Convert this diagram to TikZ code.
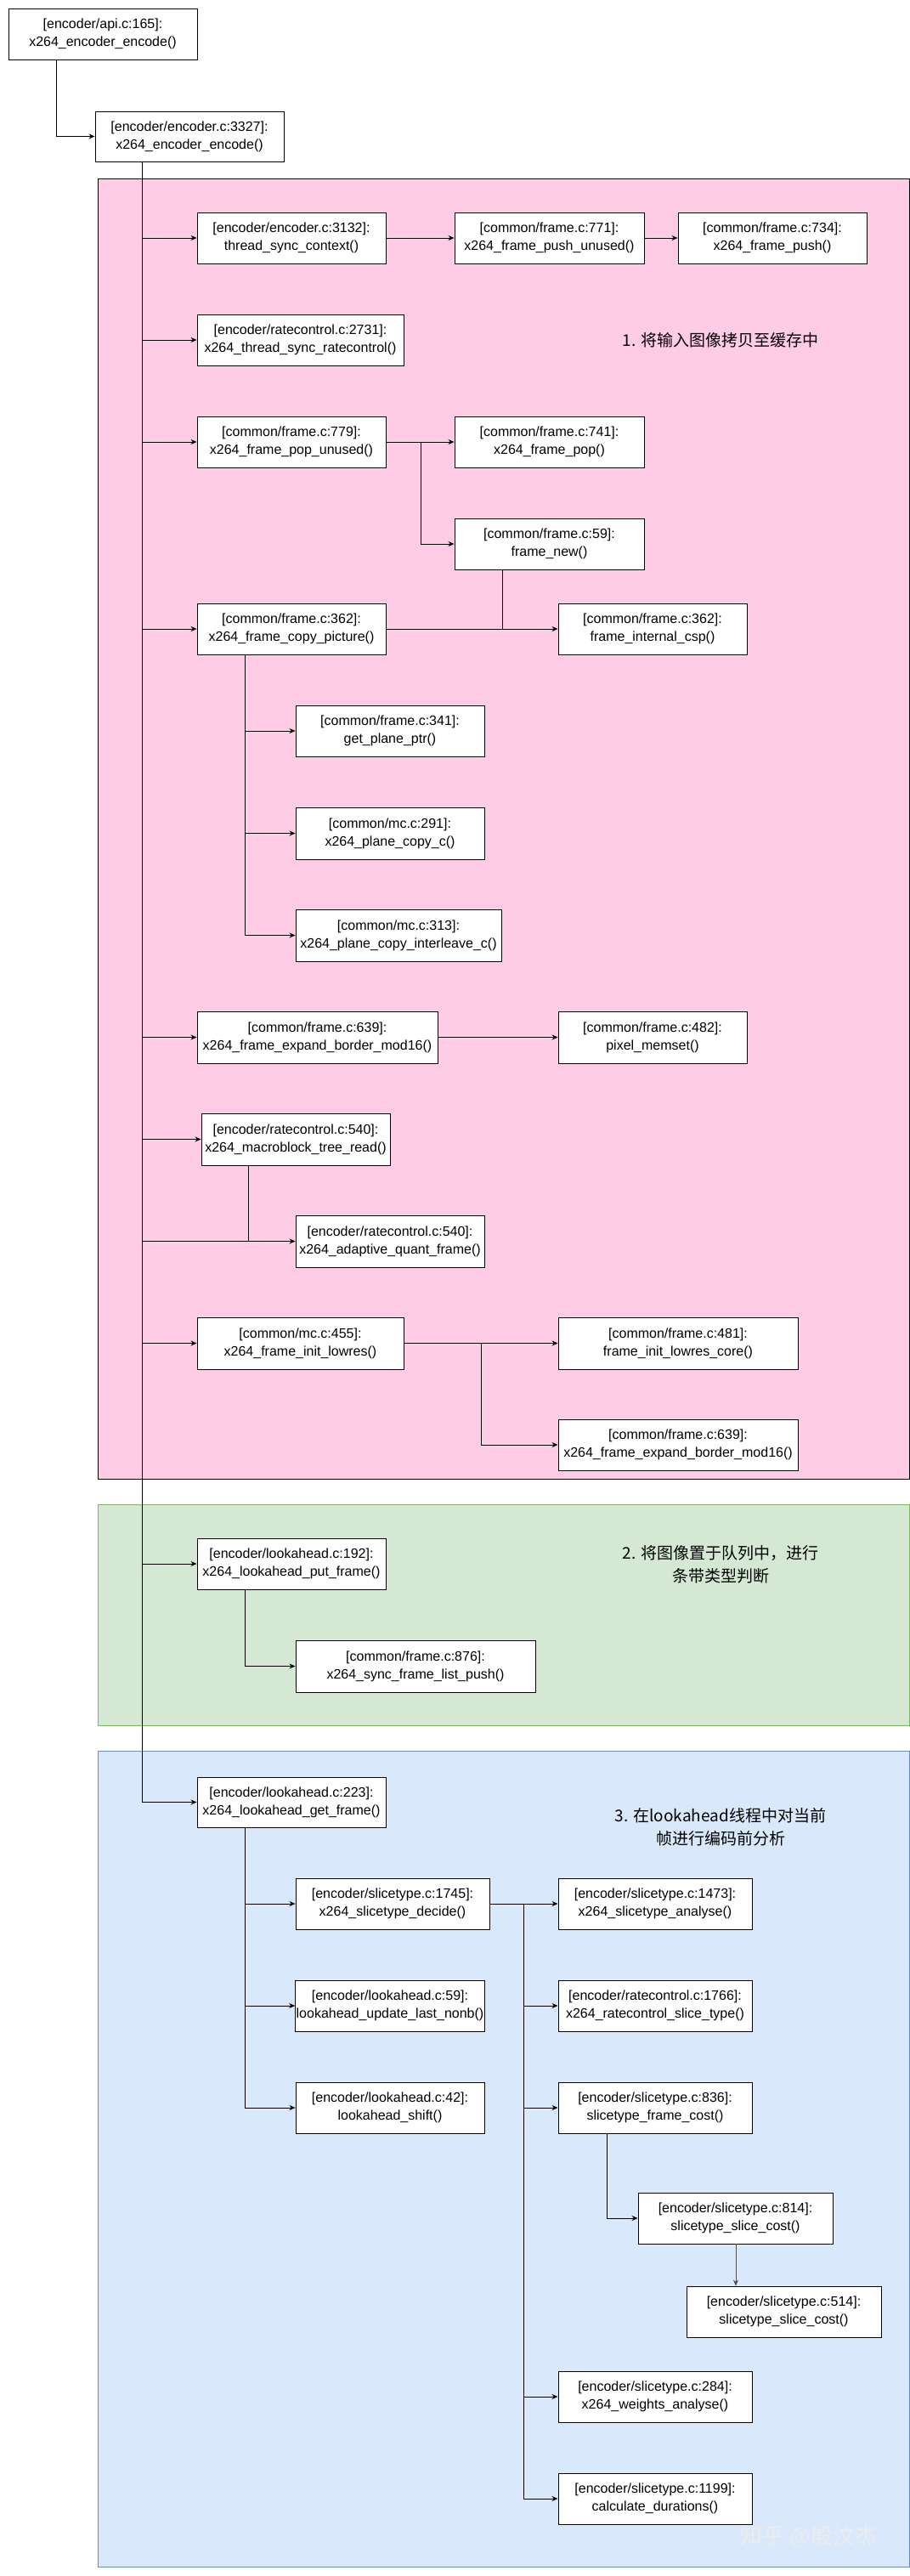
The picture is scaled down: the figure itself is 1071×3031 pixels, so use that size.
\documentclass[tikz,border=0pt]{standalone}
\usepackage{fontspec}
\setmainfont{Liberation Sans}
\newfontfamily\cjk{Noto Sans CJK SC}
\usetikzlibrary{arrows.meta}
\tikzset{
  box/.style={draw=black,fill=white,line width=0.9pt,align=center,inner sep=1pt,font=\fontsize{16}{21}\selectfont},
  arr/.style={-{Stealth[length=7pt,width=6pt]},line width=0.9pt},
  ln/.style={line width=0.9pt},
  lbl/.style={align=center,font=\cjk\fontsize{19}{27}\selectfont}
}
\newcommand\bx[6]{\node[box,minimum width={#4pt-#2pt},minimum height={#5pt-#3pt}] (#1) at ({(#2+#4)/2},{-(#3+#5)/2}) {#6};}
\begin{document}
\begin{tikzpicture}[x=1pt,y=1pt]
\useasboundingbox (0,0) rectangle (1071,-3031);
\fill[white] (0,0) rectangle (1071,-3031);
\draw[fill={rgb,255:red,255;green,204;blue,230},line width=0.8pt] (115,-210) rectangle (1070,-1740);
\draw[fill={rgb,255:red,213;green,232;blue,212},draw={rgb,255:red,130;green,179;blue,102},line width=0.8pt] (115,-1770) rectangle (1070,-2030);
\draw[fill={rgb,255:red,218;green,232;blue,252},draw={rgb,255:red,108;green,142;blue,191},line width=0.8pt] (115,-2060) rectangle (1070,-3020);
\node[lbl] (l1) at (848,-400) {1. 将输入图像拷贝至缓存中};
\node[lbl] (l2) at (848,-1841) {2. 将图像置于队列中，进行\\条带类型判断};
\node[lbl] (l3) at (848,-2150) {3. 在lookahead线程中对当前\\帧进行编码前分析};
\node[font=\cjk\fontsize{26}{30}\selectfont,text=white!85!gray] (wm) at (952,-2985) {知乎 @殷汶杰};
\bx{api}{10}{10}{232}{70}{[encoder/api.c:165]:\\x264\_encoder\_encode()}
\bx{enc}{112}{131}{334}{190}{[encoder/encoder.c:3327]:\\x264\_encoder\_encode()}
\bx{tsc}{232}{250}{454}{310}{[encoder/encoder.c:3132]:\\thread\_sync\_context()}
\bx{fpu}{535}{250}{758}{310}{[common/frame.c:771]:\\x264\_frame\_push\_unused()}
\bx{fp}{798}{250}{1020}{310}{[common/frame.c:734]:\\x264\_frame\_push()}
\bx{tsr}{232}{370}{475}{430}{[encoder/ratecontrol.c:2731]:\\x264\_thread\_sync\_ratecontrol()}
\bx{fpopu}{232}{490}{454}{550}{[common/frame.c:779]:\\x264\_frame\_pop\_unused()}
\bx{fpop}{535}{490}{758}{550}{[common/frame.c:741]:\\x264\_frame\_pop()}
\bx{fnew}{535}{610}{758}{670}{[common/frame.c:59]:\\frame\_new()}
\bx{fcp}{232}{710}{454}{770}{[common/frame.c:362]:\\x264\_frame\_copy\_picture()}
\bx{fic}{657}{710}{879}{770}{[common/frame.c:362]:\\frame\_internal\_csp()}
\bx{gpp}{348}{830}{570}{890}{[common/frame.c:341]:\\get\_plane\_ptr()}
\bx{pcc}{348}{950}{570}{1011}{[common/mc.c:291]:\\x264\_plane\_copy\_c()}
\bx{pci}{348}{1070}{590}{1131}{[common/mc.c:313]:\\x264\_plane\_copy\_interleave\_c()}
\bx{feb}{232}{1190}{515}{1251}{[common/frame.c:639]:\\x264\_frame\_expand\_border\_mod16()}
\bx{pm}{657}{1190}{879}{1251}{[common/frame.c:482]:\\pixel\_memset()}
\bx{mbt}{237}{1310}{459}{1371}{[encoder/ratecontrol.c:540]:\\x264\_macroblock\_tree\_read()}
\bx{aqf}{348}{1430}{570}{1491}{[encoder/ratecontrol.c:540]:\\x264\_adaptive\_quant\_frame()}
\bx{fil}{232}{1550}{475}{1611}{[common/mc.c:455]:\\x264\_frame\_init\_lowres()}
\bx{filc}{657}{1550}{939}{1611}{[common/frame.c:481]:\\frame\_init\_lowres\_core()}
\bx{feb2}{657}{1670}{939}{1730}{[common/frame.c:639]:\\x264\_frame\_expand\_border\_mod16()}
\bx{lpf}{232}{1810}{454}{1870}{[encoder/lookahead.c:192]:\\x264\_lookahead\_put\_frame()}
\bx{sfl}{348}{1930}{630}{1991}{[common/frame.c:876]:\\x264\_sync\_frame\_list\_push()}
\bx{lgf}{232}{2091}{454}{2150}{[encoder/lookahead.c:223]:\\x264\_lookahead\_get\_frame()}
\bx{std}{348}{2210}{576}{2270}{[encoder/slicetype.c:1745]:\\x264\_slicetype\_decide()}
\bx{sta}{657}{2210}{885}{2270}{[encoder/slicetype.c:1473]:\\x264\_slicetype\_analyse()}
\bx{lul}{348}{2330}{570}{2390}{[encoder/lookahead.c:59]:\\lookahead\_update\_last\_nonb()}
\bx{rst}{657}{2330}{885}{2390}{[encoder/ratecontrol.c:1766]:\\x264\_ratecontrol\_slice\_type()}
\bx{lsh}{348}{2450}{570}{2510}{[encoder/lookahead.c:42]:\\lookahead\_shift()}
\bx{sfc}{657}{2450}{885}{2510}{[encoder/slicetype.c:836]:\\slicetype\_frame\_cost()}
\bx{ssc}{751}{2580}{980}{2640}{[encoder/slicetype.c:814]:\\slicetype\_slice\_cost()}
\bx{ssc2}{808}{2690}{1037}{2750}{[encoder/slicetype.c:514]:\\slicetype\_slice\_cost()}
\bx{wa}{657}{2790}{885}{2850}{[encoder/slicetype.c:284]:\\x264\_weights\_analyse()}
\bx{cd}{657}{2910}{885}{2970}{[encoder/slicetype.c:1199]:\\calculate\_durations()}
% connectors
\coordinate (ta) at (66,0);
\draw[arr] (api.south -| ta) |- (enc.west);
\coordinate (tr) at (167,0);
\draw[ln] (enc.south -| tr) -- (lgf.west -| tr);
\foreach \n in {tsc,tsr,fpopu,fcp,feb,mbt,fil,lpf,lgf} \draw[arr] (\n.west -| tr) -- (\n.west);
\draw[arr] (tsc) -- (fpu); \draw[arr] (fpu) -- (fp);
\draw[arr] (fpopu) -- (fpop);
\coordinate (b1) at (495,0);
\draw[arr] (fpop.west -| b1) |- (fnew.west);
\draw[arr] (fcp) -- (fic);
\coordinate (b2) at (591,0);
\draw[ln] (fnew.south -| b2) -- (fic.west -| b2);
\coordinate (b3) at (288,0);
\draw[ln] (fcp.south -| b3) -- (pci.west -| b3);
\foreach \n in {gpp,pcc,pci} \draw[arr] (\n.west -| b3) -- (\n.west);
\draw[arr] (feb) -- (pm);
\coordinate (b4) at (292,0);
\draw[ln] (mbt.south -| b4) -- (aqf.west -| b4);
\draw[arr] (aqf.west -| tr) -- (aqf.west);
\draw[arr] (fil) -- (filc);
\coordinate (b5) at (566,0);
\draw[arr] (filc.west -| b5) |- (feb2.west);
\draw[arr] (lpf.south -| b3) |- (sfl.west);
\draw[ln] (lgf.south -| b3) -- (lsh.west -| b3);
\foreach \n in {std,lul,lsh} \draw[arr] (\n.west -| b3) -- (\n.west);
\draw[arr] (std) -- (sta);
\coordinate (b6) at (616,0);
\draw[ln] (sta.west -| b6) -- (cd.west -| b6);
\foreach \n in {rst,sfc,wa,cd} \draw[arr] (\n.west -| b6) -- (\n.west);
\coordinate (b7) at (714,0);
\draw[arr] (sfc.south -| b7) |- (ssc.west);
\coordinate (b8) at (866,0);
\draw[arr,draw=black!70] (ssc.south -| b8) -- (ssc2.north -| b8);
\end{tikzpicture}
\end{document}
